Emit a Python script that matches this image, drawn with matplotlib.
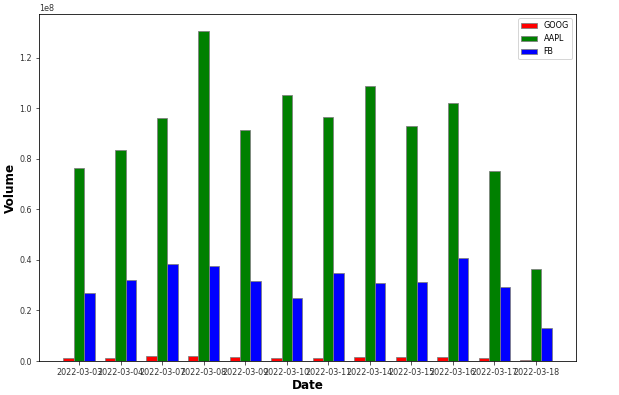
import numpy as np
import matplotlib
matplotlib.use("Agg")
import matplotlib.pyplot as plt

# trading volume per day
dates = ['2022-03-03', '2022-03-04', '2022-03-07', '2022-03-08', '2022-03-09', '2022-03-10',
         '2022-03-11', '2022-03-14', '2022-03-15', '2022-03-16', '2022-03-17', '2022-03-18']
goog = [1.1e6, 1.2e6, 1.9e6, 1.8e6, 1.5e6, 1.2e6, 1.2e6, 1.6e6, 1.6e6, 1.6e6, 1.2e6, 0.5e6]
aapl = [76.4e6, 83.6e6, 96.2e6, 130.7e6, 91.5e6, 105.3e6, 96.6e6, 108.9e6, 93.1e6, 102.2e6, 75.2e6, 36.4e6]
fb = [26.9e6, 32.1e6, 38.4e6, 37.6e6, 31.7e6, 25.0e6, 34.9e6, 30.9e6, 31.3e6, 40.8e6, 29.3e6, 13.1e6]

plt.rcParams['font.size'] = 8
plt.rcParams['axes.linewidth'] = 0.8

bw = 0.25
r1 = np.arange(len(dates))
r2 = r1 + bw
r3 = r2 + bw

fig = plt.figure(figsize=(619 / 72, 395 / 72), dpi=72)
ax = fig.add_axes([0.063, 0.086, 0.8675, 0.8786])

ax.bar(r1, goog, color='r', width=bw, edgecolor='grey', linewidth=0.8, label='GOOG')
ax.bar(r2, aapl, color='g', width=bw, edgecolor='grey', linewidth=0.8, label='AAPL')
ax.bar(r3, fb, color='b', width=bw, edgecolor='grey', linewidth=0.8, label='FB')

ax.set_xlabel('Date', fontweight='bold', fontsize=12, labelpad=2)
ax.set_ylabel('Volume', fontweight='bold', fontsize=12, labelpad=2)
ax.set_xticks(r2)
ax.set_xticklabels(dates)
ax.tick_params(colors='#333333', labelcolor='#333333')
ax.legend()

fig.savefig('out.png', dpi=72)
